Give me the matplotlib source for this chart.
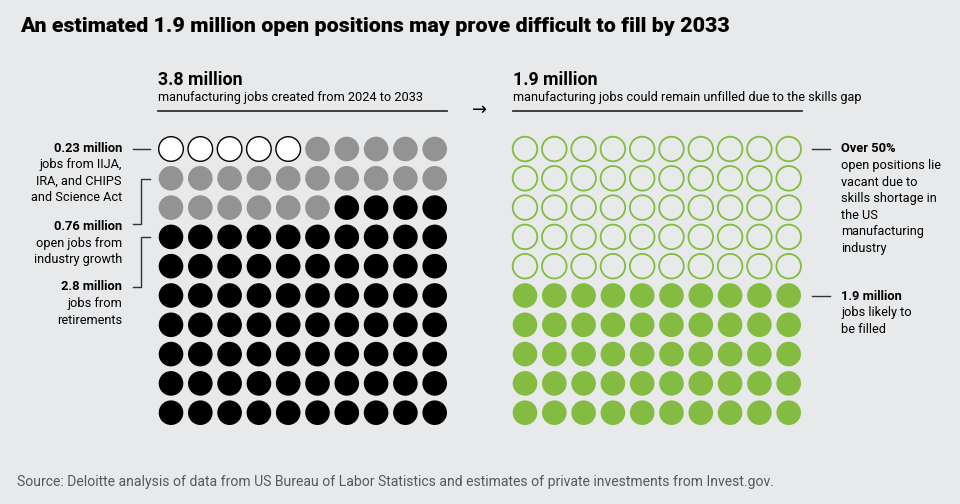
import matplotlib.pyplot as plt
from matplotlib.patches import Circle

FONT = ['Roboto', 'DejaVu Sans']
plt.rcParams['font.family'] = FONT

# data
left_values = ['0.23 million', '0.76 million', '2.8 million']
left_notes = [['jobs from IIJA,', 'IRA, and CHIPS', 'and Science Act'],
              ['open jobs from', 'industry growth'],
              ['jobs from', 'retirements']]
left_counts = [5, 21, 74]          # dots out of 100
right_counts = [50, 50]            # unfilled, filled
right_values = ['Over 50%', '1.9 million']
right_notes = [['open positions lie', 'vacant due to', 'skills shortage in', 'the US',
                'manufacturing', 'industry'],
               ['jobs likely to', 'be filled']]

bg = '#e8e9eb'
green = '#84bc41'
fig = plt.figure(figsize=(9.6, 5.04), dpi=100, facecolor=bg)
ax = fig.add_axes([0, 0, 1, 1])
ax.set_xlim(0, 960)
ax.set_ylim(504, 0)
ax.axis('off')

pitch = 29.3
r = 12.3

def waffle(x0, y0, counts, styles):
    k = 0
    for n, st in zip(counts, styles):
        for i in range(n):
            row, col = divmod(k, 10)
            ax.add_patch(Circle((x0 + col * pitch, y0 + row * pitch), r, **st))
            k += 1

# left waffle
waffle(171, 149, left_counts, [
    dict(facecolor='white', edgecolor='black', lw=1.0),
    dict(facecolor='#939393', edgecolor='none'),
    dict(facecolor='black', edgecolor='none')])
# right waffle
waffle(525, 149, right_counts, [
    dict(facecolor=bg, edgecolor=green, lw=1.3),
    dict(facecolor=green, edgecolor='none')])

# title
ax.text(20, 27, 'An estimated 1.9 million open positions may prove difficult to fill by 2033',
        fontsize=15.4, fontweight='black', va='center', ha='left')

# headers
ax.text(158, 80, '3.8 million', fontsize=12.8, fontweight='bold', va='center')
ax.text(158, 97, 'manufacturing jobs created from 2024 to 2033', fontsize=9.2, va='center')
ax.plot([158, 447], [111, 111], color='#333333', lw=1.3)
ax.text(513, 80, '1.9 million', fontsize=12.8, fontweight='bold', va='center')
ax.text(513, 97, 'manufacturing jobs could remain unfilled due to the skills gap', fontsize=9.2, va='center')
ax.plot([513, 802], [111, 111], color='#333333', lw=1.3)
ax.text(480, 110, '→', fontsize=13, va='center', ha='center', family='DejaVu Sans')

# left labels
lab_y = [148, 227, 287]
for y, v, notes in zip(lab_y, left_values, left_notes):
    ax.text(122, y, v, fontsize=9.3, fontweight='bold', ha='right', va='center')
    for j, t in enumerate(notes):
        ax.text(122, y + 16.5 * (j + 1), t, fontsize=9.2, ha='right', va='center')

lc = '#333333'
ax.plot([133, 150], [149, 149], color=lc, lw=1)
ax.plot([150, 141, 141, 133], [179, 179, 224, 224], color=lc, lw=1)
ax.plot([150, 141, 141, 133], [237, 237, 287, 287], color=lc, lw=1)

# right labels
lab_y = [149, 296]
for y, v, notes in zip(lab_y, right_values, right_notes):
    ax.plot([812, 830], [y, y], color=lc, lw=1)
    ax.text(841, y, v, fontsize=9.3, fontweight='bold', ha='left', va='center')
    for j, t in enumerate(notes):
        ax.text(841, y + 16.6 * (j + 1), t, fontsize=9.2, ha='left', va='center')

# source
ax.text(17, 482, 'Source: Deloitte analysis of data from US Bureau of Labor Statistics and estimates of private investments from Invest.gov.',
        fontsize=10.1, color='#58595b', va='center')

fig.savefig('out.png', dpi=100, facecolor=bg)
